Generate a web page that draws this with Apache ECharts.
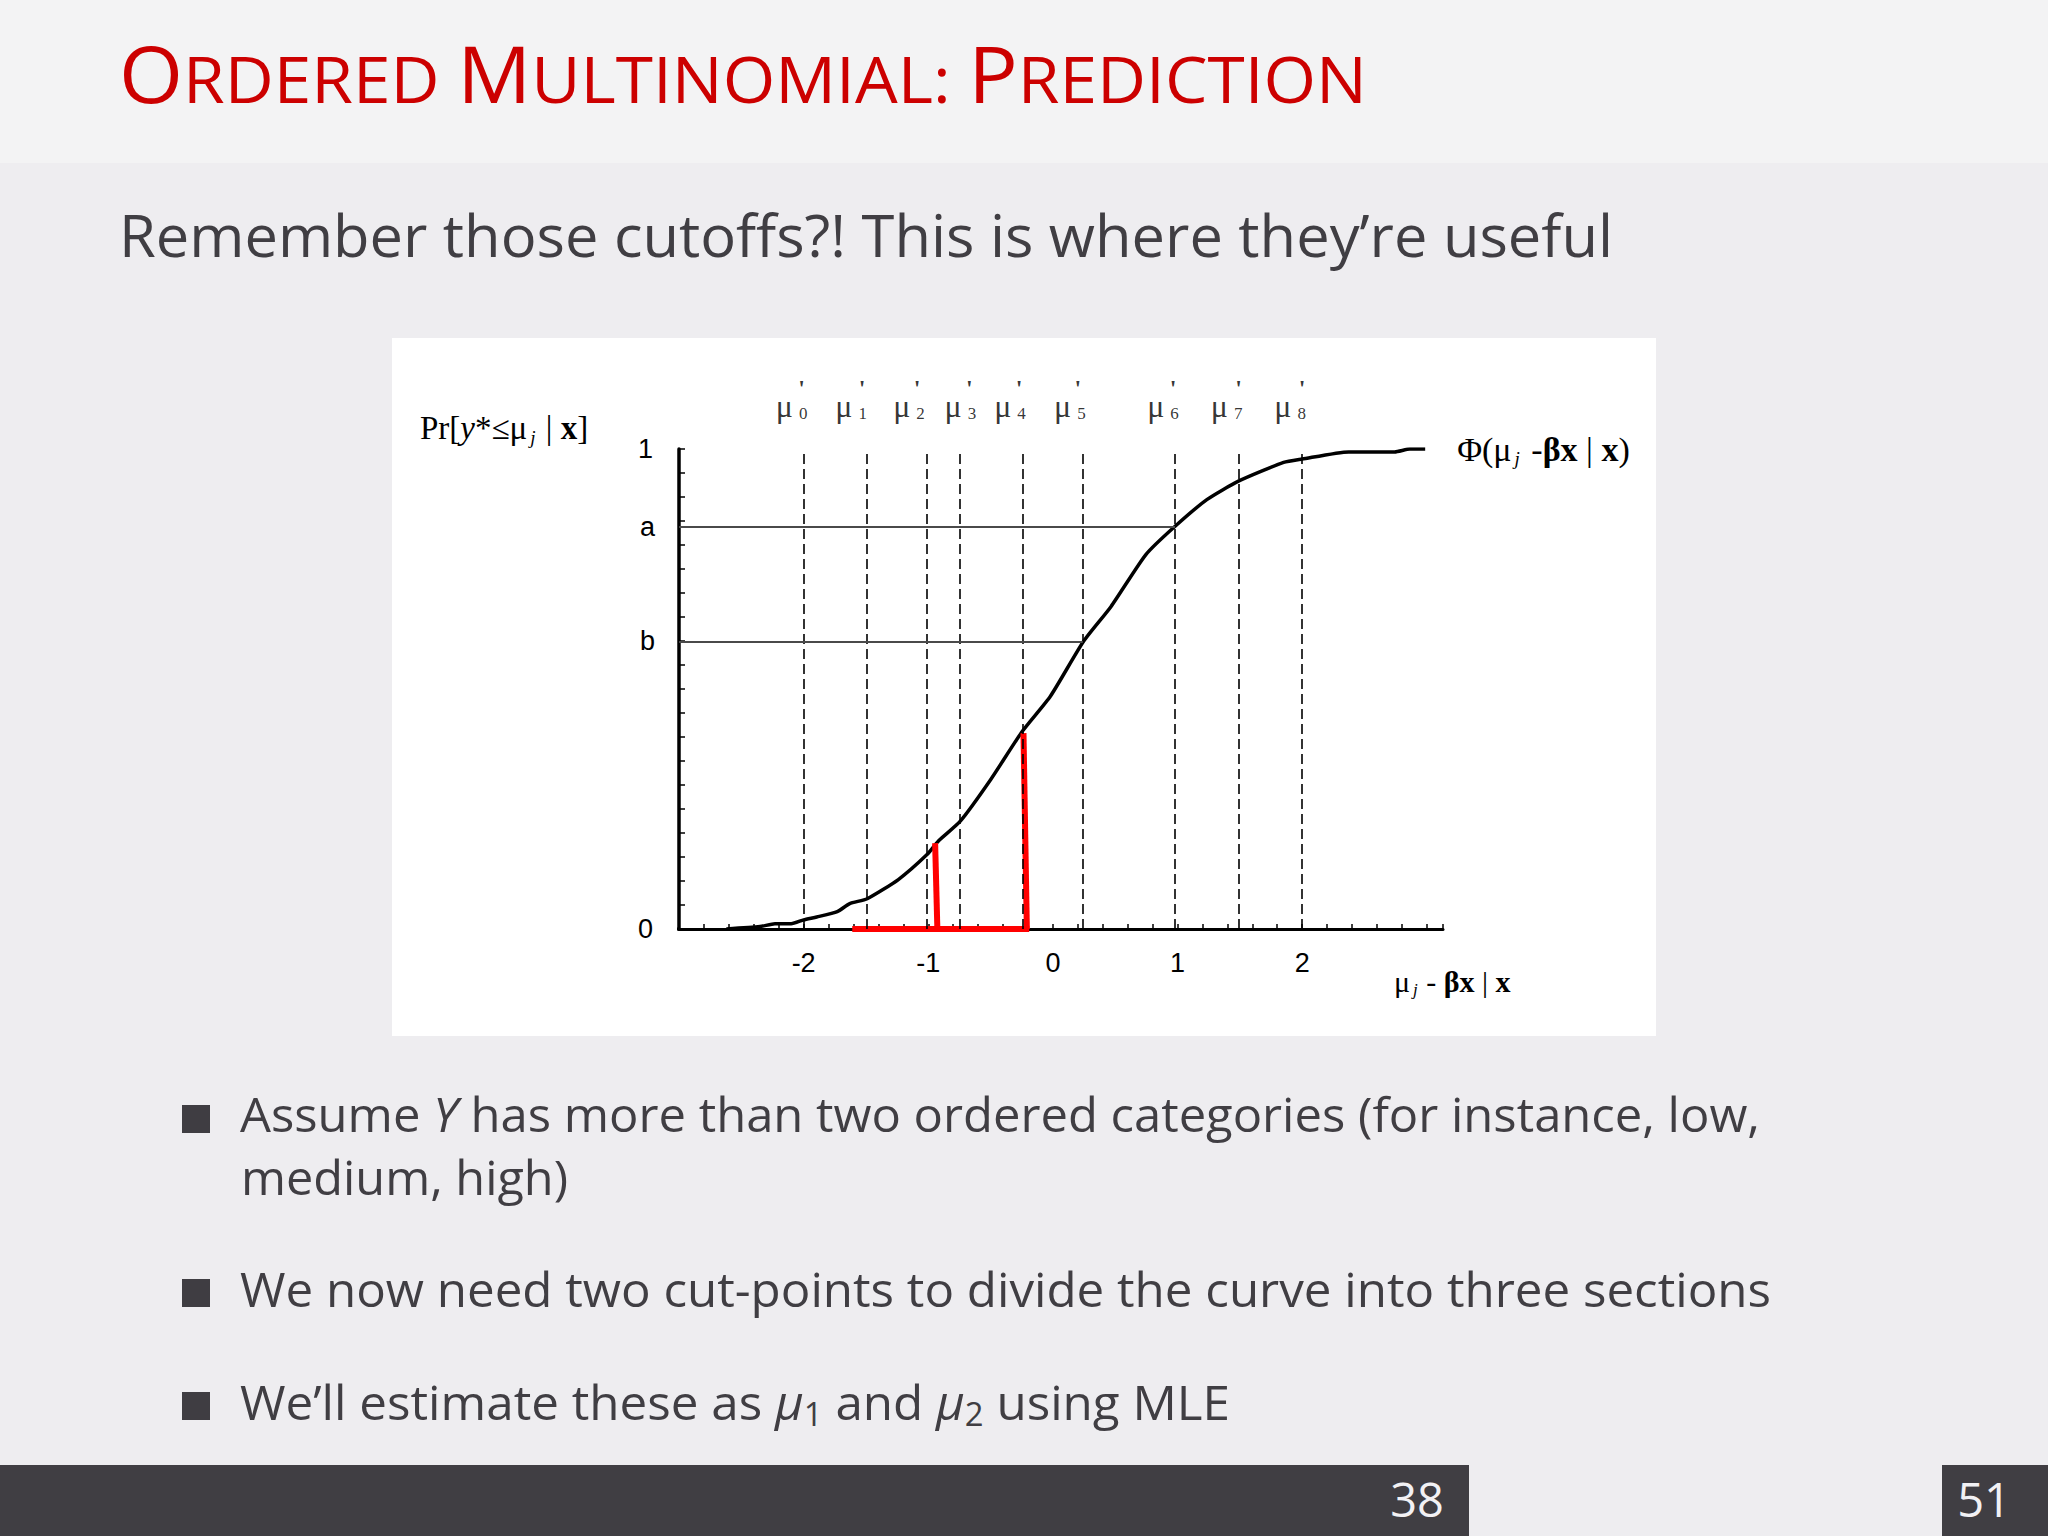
<!DOCTYPE html>
<html><head><meta charset="utf-8">
<script src="https://cdn.jsdelivr.net/npm/echarts@6/dist/echarts.min.js"></script>
<style>
html,body{margin:0;padding:0;width:2048px;height:1536px;overflow:hidden;background:#eeedf0}
#slide{position:absolute;left:0;top:0}
#chart{position:absolute;left:392px;top:338px;width:1264px;height:698px;background:#ffffff}
</style></head><body>
<svg id="slide" width="2048" height="1536" xmlns="http://www.w3.org/2000/svg" font-family="'Open Sans', 'Noto Sans', sans-serif">
  <rect x="0" y="0" width="2048" height="163" fill="#f3f3f4"/>
  <rect x="0" y="163" width="2048" height="1302" fill="#eeedf0"/>
  <text x="119" y="103" fill="#cc0000" textLength="1248" lengthAdjust="spacingAndGlyphs"><tspan font-size="78">O</tspan><tspan font-size="64">RDERED </tspan><tspan font-size="78">M</tspan><tspan font-size="64">ULTINOMIAL: </tspan><tspan font-size="78">P</tspan><tspan font-size="64">REDICTION</tspan></text>
  <text x="119" y="257" fill="#403e43" font-size="59" textLength="1494" lengthAdjust="spacingAndGlyphs">Remember those cutoffs?! This is where they’re useful</text>
  <rect x="182" y="1105" width="28" height="28" fill="#3f3d42"/>
  <rect x="182" y="1279" width="28" height="28" fill="#3f3d42"/>
  <rect x="182" y="1392" width="28" height="28" fill="#3f3d42"/>
  <text x="240" y="1132" fill="#403e43" font-size="48" textLength="1520" lengthAdjust="spacingAndGlyphs">Assume <tspan font-style="italic">Y</tspan> has more than two ordered categories (for instance, low,</text>
  <text x="241" y="1195" fill="#403e43" font-size="48" textLength="327" lengthAdjust="spacingAndGlyphs">medium, high)</text>
  <text x="240" y="1307" fill="#403e43" font-size="48" textLength="1531" lengthAdjust="spacingAndGlyphs">We now need two cut-points to divide the curve into three sections</text>
  <text x="240" y="1420" fill="#403e43" font-size="48" textLength="990" lengthAdjust="spacingAndGlyphs">We’ll estimate these as <tspan font-style="italic">μ</tspan><tspan font-size="32" dy="6">1</tspan><tspan dy="-6"> and </tspan><tspan font-style="italic">μ</tspan><tspan font-size="32" dy="6">2</tspan><tspan dy="-6"> using MLE</tspan></text>
  <rect x="0" y="1465" width="1469" height="71" fill="#403e43"/>
  <rect x="1942" y="1465" width="106" height="71" fill="#403e43"/>
  <text x="1444" y="1517" fill="#f2f1f4" font-size="47" text-anchor="end">38</text>
  <text x="1984" y="1517" fill="#f2f1f4" font-size="47" text-anchor="middle">51</text>
</svg>
<div id="chart"></div>
<script>
// ---- data ----
const curveX = [-2.62, -2.35, -2.23, -2.10, -2.00, -1.895, -1.73, -1.63, -1.49, -1.24, -1.01, -0.92, -0.745, -0.50, -0.245, -0.02, 0.245, 0.467, 0.746, 0.976, 1.238, 1.489, 1.851, 1.999, 2.373, 2.742, 2.864, 2.987];
const curveY = [0.0, 0.005, 0.011, 0.011, 0.019, 0.025, 0.036, 0.053, 0.063, 0.103, 0.155, 0.183, 0.224, 0.311, 0.412, 0.485, 0.599, 0.672, 0.780, 0.838, 0.895, 0.933, 0.972, 0.979, 0.994, 0.994, 1.0, 1.0];
const cutoffs = [-2.0, -1.49, -1.01, -0.75, -0.24, 0.24, 0.98, 1.49, 2.0];
const cutoffSubs = ['0', '1', '2', '3', '4', '5', '6', '7', '8'];
const levelNames = ['a', 'b'];
const levelValues = [0.838, 0.599];
const levelEndX = [0.98, 0.24];
const redBaseX = [-1.61, -0.19];
const redBaseY = [0, 0];
const redCut1X = [-0.927, -0.945];
const redCut1Y = [0, 0.179];
const redCut2X = [-0.209, -0.236];
const redCut2Y = [0, 0.408];
const xTickLabels = ['-2', '-1', '0', '1', '2'];
const yTickLabels = ['0', '1'];

// ---- layout (label nudges in px, as hand-placed in the original) ----
const MU_SHIFT = [0, -4, -6, 13, -1, -1, 0, 0, 0];
const PRIME_SHIFT = [-2, -5, -10, 10, -4, -5, -2, 0, 0];

const zip = (xs, ys) => xs.map((x, i) => [x, ys[i]]);
const SERIF = "'Liberation Serif', 'Times New Roman', serif";
const SANS = "'Liberation Sans', Arial, sans-serif";
const X_MIN = -3, X_MAX = 3.13;
const MU_Y = 1.09, PRIME_Y = 1.127;

const chart = echarts.init(document.getElementById('chart'), null, {renderer: 'svg'});
const option = {
  animation: false,
  backgroundColor: '#ffffff',
  grid: {left: 287, top: 111, width: 764, height: 480},
  xAxis: {
    type: 'value', min: X_MIN, max: X_MAX, interval: 0.2,
    axisLine: {onZero: false, lineStyle: {color: '#000', width: 3}},
    axisTick: {inside: true, length: 5, lineStyle: {color: '#000', width: 1.5}},
    splitLine: {show: false},
    axisLabel: {
      margin: 20, fontFamily: SANS, fontSize: 27, color: '#000',
      formatter: v => { const r = Math.round(v); return (Math.abs(v - r) < 1e-6 && xTickLabels.includes(String(r))) ? String(r) : ''; }
    }
  },
  yAxis: {
    type: 'value', min: 0, max: 1, interval: 0.05,
    axisLine: {onZero: false, lineStyle: {color: '#000', width: 3.5}},
    axisTick: {inside: true, length: 6, lineStyle: {color: '#000', width: 1.5}},
    splitLine: {show: false},
    axisLabel: {
      margin: 26, fontFamily: SANS, fontSize: 27, color: '#000',
      formatter: v => { const r = Math.round(v); return (Math.abs(v - r) < 1e-6 && yTickLabels.includes(String(r))) ? String(r) : ''; }
    }
  },
  graphic: [
    {type: 'text', x: 28, y: 90, style: {
      text: '{n|Pr[}{i|y}{n|*≤μ}{s|j}{n| | }{b|x}{n|]}', verticalAlign: 'middle', align: 'left',
      rich: {
        n: {fontFamily: SERIF, fontSize: 33, color: '#000'},
        i: {fontFamily: SERIF, fontSize: 33, fontStyle: 'italic', color: '#000'},
        b: {fontFamily: SERIF, fontSize: 33, fontWeight: 'bold', color: '#000'},
        s: {fontFamily: SERIF, fontSize: 19, fontStyle: 'italic', color: '#000', padding: [18, 2, 0, 3]}
      }}},
    {type: 'text', x: 1002, y: 643, style: {
      text: '{n|μ}{s|j}{n| - }{b|βx}{n| | }{b|x}', verticalAlign: 'middle', align: 'left',
      rich: {
        n: {fontFamily: SERIF, fontSize: 30, color: '#000'},
        b: {fontFamily: SERIF, fontSize: 30, fontWeight: 'bold', color: '#000'},
        s: {fontFamily: SERIF, fontSize: 17, fontStyle: 'italic', color: '#000', padding: [16, 1, 0, 3]}
      }}}
  ],
  series: [
    {
      name: 'curve', type: 'line', data: zip(curveX, curveY), symbol: 'none', smooth: 0.2, z: 3,
      lineStyle: {color: '#000', width: 3.5},
      endLabel: {
        show: true, distance: 32,
        formatter: () => '{n|Φ(μ}{s|j}{n| -}{b|βx}{n| | }{b|x}{n|)}',
        rich: {
          n: {fontFamily: SERIF, fontSize: 34, color: '#000'},
          b: {fontFamily: SERIF, fontSize: 34, fontWeight: 'bold', color: '#000'},
          s: {fontFamily: SERIF, fontSize: 19, fontStyle: 'italic', color: '#000', padding: [18, 3, 0, 3]}
        }
      }
    },
    {
      name: 'cutoffs', type: 'line', data: [], z: 2,
      markLine: {
        silent: true, symbol: 'none', animation: false,
        lineStyle: {color: '#000', width: 1.6, type: [10, 5]},
        label: {show: false},
        data: cutoffs.map(c => ({xAxis: c}))
      }
    },
    {
      name: 'levels', type: 'line', data: [], z: 2,
      markLine: {
        silent: true, symbol: 'none', animation: false,
        lineStyle: {color: '#4a4a4a', width: 2.2, type: 'solid'},
        label: {show: true, position: 'start', distance: 24, fontFamily: SANS, fontSize: 27, color: '#000',
          formatter: p => levelNames[p.dataIndex]},
        data: levelValues.map((v, i) => [{coord: [X_MIN, v]}, {coord: [levelEndX[i], v]}])
      }
    },
    {name: 'redBase', type: 'line', data: zip(redBaseX, redBaseY), symbol: 'none', z: 4, lineStyle: {color: '#ff0000', width: 6}},
    {name: 'redCut1', type: 'line', data: zip(redCut1X, redCut1Y), symbol: 'none', z: 4, lineStyle: {color: '#ff0000', width: 6}},
    {name: 'redCut2', type: 'line', data: zip(redCut2X, redCut2Y), symbol: 'none', z: 4, lineStyle: {color: '#ff0000', width: 6}},
    {name: 'axisStub', type: 'line', data: [[X_MIN - 0.14, 0], [X_MIN, 0]], symbol: 'none', clip: false, lineStyle: {color: '#000', width: 3}},
    {
      name: 'muLabels', type: 'scatter', clip: false, symbolSize: 0, z: 5,
      data: cutoffs.map((c, i) => ({value: [c, MU_Y], label: {offset: [-12 + MU_SHIFT[i], 0]}})),
      label: {
        show: true, position: 'inside',
        formatter: p => '{m|μ}{s|' + cutoffSubs[p.dataIndex] + '}',
        rich: {
          m: {fontFamily: SERIF, fontSize: 32, color: '#000'},
          s: {fontFamily: SERIF, fontSize: 17, color: '#000', padding: [15, 0, 0, 6]}
        }
      }
    },
    {
      name: 'primes', type: 'scatter', clip: false, symbolSize: 0, z: 5,
      data: cutoffs.map((c, i) => ({value: [c, PRIME_Y], label: {offset: [PRIME_SHIFT[i], 0]}})),
      label: {show: true, position: 'inside', formatter: "'", fontFamily: SERIF, fontSize: 24, fontWeight: 'bold', color: '#000'}
    }
  ]
};
chart.setOption(option);
</script>
</body></html>
